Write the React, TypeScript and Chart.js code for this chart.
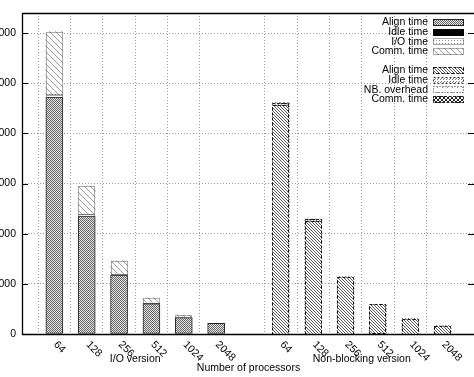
import React, { useEffect, useRef } from 'react';
import { Chart, registerables } from 'chart.js';
Chart.register(...registerables);

// ---- data ----
const processors = ['64', '128', '256', '512', '1024', '2048'];
const ioAlign = [4720, 2350, 1175, 611, 325, 213];
const ioIdle = [0, 0, 0, 0, 0, 0];
const ioIO = [60, 40, 20, 10, 5, 0];
const ioComm = [1250, 552, 265, 96, 42, 0];
const nbAlign = [4568, 2260, 1141, 592, 305, 165];
const nbIdle = [0, 0, 0, 0, 0, 0];
const nbOverhead = [0, 0, 0, 0, 0, 0];
const nbComm = [40, 30, 0, 0, 0, 0];
const yMax = 6400;
const yTicks = [0, 1000, 2000, 3000, 4000, 5000, 6000];
const groupLabels = ['I/O version', 'Non-blocking version'];
const xTitle = 'Number of processors';
const legendIO = ['Align time', 'Idle time', 'I/O time', 'Comm. time'];
const legendNB = ['Align time', 'Idle time', 'NB. overhead', 'Comm. time'];

const categories = ['', ...processors, '', ...processors, ''];
const empty = processors.map(() => null);
const padIO = (a: number[]) => [null, ...a, null, ...empty, null];
const padNB = (a: number[]) => [null, ...empty, null, ...a, null];

const SHIFT = 30;
const FAMILY = '"Liberation Sans", Arial, sans-serif';
const FONT = '10.5px ' + FAMILY;

function tile(size: number, draw: (c: CanvasRenderingContext2D) => void) {
  const cv = document.createElement('canvas');
  cv.width = size;
  cv.height = size;
  const c = cv.getContext('2d')!;
  c.fillStyle = '#ffffff';
  c.fillRect(0, 0, size, size);
  draw(c);
  return cv;
}
function px(c: CanvasRenderingContext2D, x: number, y: number, col: string) {
  c.fillStyle = col;
  c.fillRect(x, y, 1, 1);
}

export default function App() {
  const ref = useRef<HTMLCanvasElement>(null);
  useEffect(() => {
    const canvas = ref.current!;
    const ctx = canvas.getContext('2d')!;
    const pat = (cv: HTMLCanvasElement) => ctx.createPattern(cv, 'repeat')!;

    const checker = pat(tile(2, (c) => { px(c, 0, 0, '#686868'); px(c, 1, 1, '#686868'); px(c, 1, 0, '#e4e4e4'); px(c, 0, 1, '#e4e4e4'); }));
    const dots = pat(tile(3, (c) => { px(c, 1, 1, '#8a8a8a'); }));
    const sparseBack = pat(tile(6, (c) => { for (let i = 0; i < 6; i++) px(c, i, i, '#9a9a9a'); }));
    const denseBack = pat(tile(3, (c) => { for (let i = 0; i < 3; i++) px(c, i, i, '#5a5a5a'); }));
    const nbDots = pat(tile(3, (c) => { px(c, 0, 0, '#777'); px(c, 2, 1, '#777'); }));
    const sparseDots = pat(tile(5, (c) => { px(c, 2, 2, '#888'); }));
    const cross = pat(tile(4, (c) => { for (let i = 0; i < 4; i++) { px(c, i, i, '#222'); px(c, i, 3 - i, '#222'); } }));

    const styles = [
      { fill: checker, border: '#222', dash: [] as number[] },
      { fill: '#000000', border: '#000', dash: [] },
      { fill: dots, border: '#555', dash: [1, 1] },
      { fill: sparseBack, border: '#555', dash: [1, 1] },
      { fill: denseBack, border: '#111', dash: [3, 2] },
      { fill: nbDots, border: '#333', dash: [2, 2] },
      { fill: sparseDots, border: '#333', dash: [1, 2] },
      { fill: cross, border: '#222', dash: [3, 2] },
    ];
    const series = [
      padIO(ioAlign), padIO(ioIdle), padIO(ioIO), padIO(ioComm),
      padNB(nbAlign), padNB(nbIdle), padNB(nbOverhead), padNB(nbComm),
    ];
    const labels = [...legendIO, ...legendNB];

    const decor = {
      id: 'decor',
      afterDatasetsDraw(chart: any) {
        const c = chart.ctx;
        c.save();
        chart.data.datasets.forEach((ds: any, di: number) => {
          const st = styles[di];
          if (!st.dash.length) return;
          const meta = chart.getDatasetMeta(di);
          meta.data.forEach((el: any) => {
            const { x, y, base, width } = el.getProps(['x', 'y', 'base', 'width'], true);
            if (!isFinite(y) || !isFinite(base)) return;
            const h = Math.abs(base - y);
            if (h < 0.5) return;
            c.strokeStyle = st.border;
            c.lineWidth = 1;
            c.setLineDash(st.dash);
            c.strokeRect(Math.round(x - width / 2) + 0.5, Math.round(Math.min(y, base)) + 0.5, Math.round(width) - 1, Math.round(h));
          });
        });
        c.restore();
      },
      afterDraw(chart: any) {
        const c = chart.ctx;
        const a = chart.chartArea;
        const xs = chart.scales.x;
        const ys = chart.scales.y;
        c.save();
        c.setLineDash([]);
        // frame
        c.strokeStyle = '#000';
        c.lineWidth = 1.3;
        c.beginPath();
        c.moveTo(a.right, a.top + 0.5);
        c.lineTo(a.left + 0.5, a.top + 0.5);
        c.lineTo(a.left + 0.5, a.bottom + 0.5);
        c.lineTo(a.right, a.bottom + 0.5);
        c.stroke();
        // inward y ticks
        c.lineWidth = 1;
        yTicks.forEach((v) => {
          if (v === 0) return;
          const y = Math.round(ys.getPixelForValue(v)) + 0.5;
          c.beginPath();
          c.moveTo(a.left, y); c.lineTo(a.left + 6, y);
          c.moveTo(a.right - 7, y); c.lineTo(a.right, y);
          c.stroke();
        });
        // rotated x labels
        c.fillStyle = '#000';
        c.font = FONT;
        categories.forEach((lab, i) => {
          if (!lab) return;
          const x = xs.getPixelForValue(i);
          c.save();
          c.translate(x + 1, a.bottom + 9);
          c.rotate(Math.PI / 4);
          c.textAlign = 'left';
          c.textBaseline = 'middle';
          c.fillText(lab, 0, 0);
          c.restore();
        });
        // group labels + title
        c.textAlign = 'center';
        c.textBaseline = 'middle';
        c.fillText(groupLabels[0], xs.getPixelForValue(3.5), a.bottom + 25);
        c.fillText(groupLabels[1], xs.getPixelForValue(10.5), a.bottom + 25);
        c.fillText(xTitle, xs.getPixelForValue(7), a.bottom + 34);
        // legend
        const textRight = 428 + SHIFT;
        const boxL = 433 + SHIFT;
        const boxW = 31;
        const rows = [22, 31.6, 41.2, 50.8, 70, 79.6, 89.2, 98.8];
        labels.forEach((lab, i) => {
          const y = rows[i];
          c.textAlign = 'right';
          c.textBaseline = 'middle';
          c.fillStyle = '#000';
          c.fillText(lab, textRight, y + 0.5);
          const st = styles[i];
          c.fillStyle = st.fill as any;
          c.fillRect(boxL, Math.round(y - 3), boxW, 7);
          c.strokeStyle = st.border;
          c.setLineDash(st.dash);
          c.lineWidth = 1;
          c.strokeRect(boxL + 0.5, Math.round(y - 3) + 0.5, boxW - 1, 6);
          c.setLineDash([]);
        });
        c.restore();
      },
    };

    const chart = new Chart(ctx, {
      type: 'bar',
      data: {
        labels: categories,
        datasets: series.map((d, i) => ({
          label: labels[i],
          data: d as any,
          backgroundColor: styles[i].fill as any,
          borderColor: styles[i].border,
          borderWidth: styles[i].dash.length ? 0 : 1,
          borderSkipped: false,
          stack: 'all',
          barThickness: 17,
        })),
      },
      options: {
        animation: false,
        responsive: false,
        maintainAspectRatio: false,
        layout: { padding: { top: 13, right: 0, bottom: 0, left: 0 } },
        plugins: { legend: { display: false }, tooltip: { enabled: false } },
        scales: {
          x: {
            type: 'category',
            offset: false,
            stacked: true,
            ticks: { display: false, autoSkip: false },
            grid: {
              drawTicks: false,
              lineWidth: 1,
              color: (c: any) => ([0, 7, 14].includes(c.index) ? 'rgba(0,0,0,0)' : '#9a9a9a'),
            },
            border: { display: false, dash: [1, 2] },
            afterFit: (s: any) => { s.height = 43; },
          },
          y: {
            type: 'linear',
            stacked: true,
            min: 0,
            max: yMax,
            afterBuildTicks: (s: any) => { s.ticks = yTicks.map((v) => ({ value: v })); },
            ticks: {
              autoSkip: false,
              color: '#000',
              padding: 6,
              font: { family: FAMILY, size: 10.5 },
              callback: (v: any) => String(v),
            },
            grid: { drawTicks: false, color: '#9a9a9a', lineWidth: 1 },
            border: { display: false, dash: [1, 2] },
            afterFit: (s: any) => { s.width = 22 + SHIFT; },
          },
        },
      },
      plugins: [decor],
    });
    return () => chart.destroy();
  }, []);

  return (
    <div style={{ position: 'fixed', left: 0, top: 0, width: 474, height: 377, overflow: 'hidden', background: '#fff' }}>
      <canvas ref={ref} width={474 + SHIFT + 1} height={377} style={{ position: 'absolute', left: -SHIFT, top: 0, display: 'block' }} />
    </div>
  );
}
